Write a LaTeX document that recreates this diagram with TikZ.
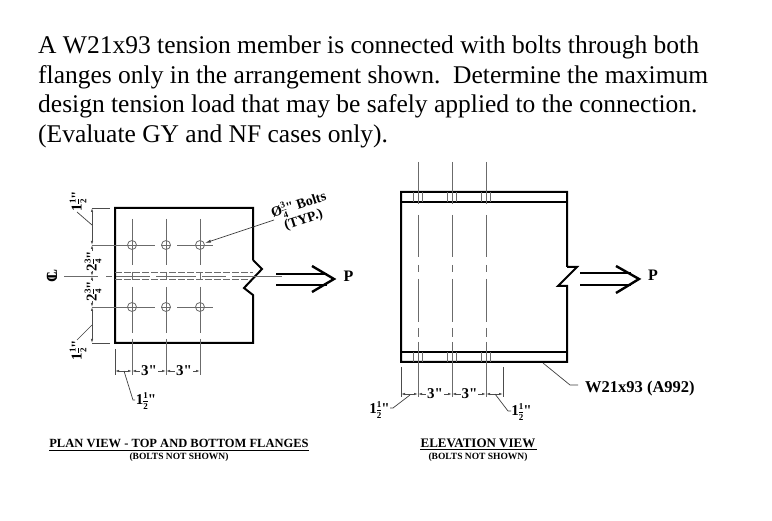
\documentclass[tikz,border=0pt]{standalone}
\usepackage{fontspec}
\setmainfont{Liberation Serif}
\newfontfamily\labfont{Liberation Serif}
\nulldelimiterspace=0pt
\newcommand\fr[2]{\ensuremath{\vcenter{\hbox{$\frac{\hbox{\fontsize{9}{9}\labfont\bfseries #1}}{\hbox{\fontsize{9}{9}\labfont\bfseries #2}}$}}}}
\usetikzlibrary{arrows.meta}
\tikzset{
 outline/.style={line width=2pt,black,line join=miter},
 thin gray/.style={line width=0.8pt,black!58},
 hidden/.style={line width=0.8pt,black!58,dash pattern=on 7pt off 2pt},
 dim/.style={line width=0.7pt,black!70},
 dimtip/.style={dim,{Latex[length=4pt,width=2.4pt]}-{Latex[length=4pt,width=2.4pt]}},
 leader/.style={line width=0.7pt,black!75},
 force/.style={line width=2.4pt,black},
 lab/.style={inner sep=0pt,font=\fontsize{15}{15}\labfont\bfseries},
 para/.style={inner sep=0pt,anchor=base west,font=\fontsize{25.5}{29}\selectfont},
 capt/.style={inner sep=0pt,font=\fontsize{12.5}{14}\labfont\bfseries},
 subcapt/.style={inner sep=0pt,font=\fontsize{9.5}{11}\labfont\bfseries},
}
\begin{document}
\begin{tikzpicture}[x=1pt,y=-1pt]
\useasboundingbox (0,0) rectangle (772,521);
\fill[white] (0,0) rectangle (772,521);
% statement
\node[para] (l1) at (38,54) {A W21x93 tension member is connected with bolts through both};
\node[para] (l2) at (38,83.5) {flanges only in the arrangement shown.\ \ Determine the maximum};
\node[para] (l3) at (38,113) {design tension load that may be safely applied to the connection.};
\node[para] (l4) at (38,142.5) {(Evaluate GY and NF cases only).};
% ---------- plan view
\draw[outline] (253,260) -- (253,208) -- (115,208) -- (115,343) -- (253,343) -- (253,295) -- (244,288) -- (262,269) -- (253,260);
\foreach \x in {132,166,200}{
 \foreach \y in {245,307}{
  \draw[thin gray] (\x,\y) circle (4.5pt);
 }
 \draw[thin gray] (\x,219) -- (\x,265) (\x,287) -- (\x,333) (\x,339) -- (\x,375) (\x,272) -- (\x,280);
}
\foreach \y in {245,307}{
 \draw[thin gray] (92,\y) -- (155,\y) (161,\y) -- (171,\y) (177,\y) -- (213,\y);
}
% web (hidden) and centre line
\draw[hidden] (115,272.5) -- (253,272.5) (115,279.5) -- (250,279.5);
\draw[thin gray] (64,276) -- (98,276) (106,276) -- (112,276) (116,276) -- (150,276);
\draw[thin gray] (156,276) -- (196,276) (202,276) -- (226,276) (232,276) -- (282,276);
% plan dimensions
\draw[dim] (92,208) -- (110,208) (92,343) -- (110,343) (115,349) -- (115,375);
\draw[dimtip] (92,208) -- (92,245);
\draw[dimtip] (92,245) -- (92,276);
\draw[dimtip] (92,276) -- (92,307);
\draw[dimtip] (92,307) -- (92,343);
\draw[dimtip] (115,371) -- (132,371);
\draw[dimtip] (132,371) -- (166,371);
\draw[dimtip] (166,371) -- (200,371);
\draw[leader] (92,225) -- (77,212);
\draw[leader] (92,325) -- (77,340);
\draw[leader] (124,371) -- (133,400) -- (135,400);
\node[lab,rotate=90] (a1) at (78,201) {1\fr12"};
\node[lab,rotate=90,fill=white] (a2) at (93,261) {2\fr34"};
\node[lab,rotate=90,fill=white] (a3) at (93,291) {2\fr34"};
\node[lab,rotate=90] (a4) at (78,350) {1\fr12"};
\node[lab,rotate=90,font=\fontsize{15}{15}\labfont\bfseries] (cl) at (52,276) {C\kern-7pt L};
\node[lab,fill=white,inner xsep=1pt] (a5) at (149,371) {3"};
\node[lab,fill=white,inner xsep=1pt] (a6) at (184,371) {3"};
\node[lab] (a7) at (146,401) {1\fr12"};
% bolts callout
\draw[leader,-{Latex[length=6pt,width=3pt]}] (274,220) -- (205,243);
\node[lab,rotate=18,align=center,font=\fontsize{14}{14}\labfont\bfseries] (bolts) at (301,212) {Ø\fr34" Bolts\\(TYP.)};
% force
\draw[force] (276,274) -- (327,274) (276,285) -- (327,285);
\draw[force,line join=miter] (312,266) -- (334,279) -- (312,292);
\node[lab,font=\fontsize{16}{16}\labfont\bfseries] (p1) at (348.5,276) {P};
% captions
\node[capt] (c1) at (179,443) {PLAN VIEW - TOP AND BOTTOM FLANGES};
\draw[line width=0.8pt] (49,450) -- (309,450);
\node[subcapt] (c2) at (179,457.5) {(BOLTS NOT SHOWN)};
% ---------- elevation view
\draw[outline] (567,267) -- (567,192) -- (401,192) -- (401,362) -- (567,362) -- (567,286) -- (558,286) -- (577,267) -- (567,267);
\draw[line width=2pt] (401,202) -- (567,202) (401,352) -- (567,352);
\foreach \x in {418,452,486}{
 \draw[thin gray] (\x,162) -- (\x,204) (\x,215) -- (\x,257) (\x,265) -- (\x,272) (\x,279) -- (\x,322) (\x,328) -- (\x,337) (\x,342) -- (\x,397);
 \draw[thin gray] (\x-4.5,192) -- (\x-4.5,202) (\x+4.5,192) -- (\x+4.5,202);
 \draw[thin gray] (\x-4.5,352) -- (\x-4.5,362) (\x+4.5,352) -- (\x+4.5,362);
}
\draw[dim] (401,367) -- (401,397) (503,367) -- (503,397);
\draw[dimtip] (401,394) -- (418,394);
\draw[dimtip] (418,394) -- (452,394);
\draw[dimtip] (452,394) -- (486,394);
\draw[dimtip] (486,394) -- (503,394);
\draw[leader] (410,395) -- (393,408) -- (390,408);
\draw[leader] (495,394) -- (508,411) -- (511,411);
\node[lab] (b1) at (379.5,410) {1\fr12"};
\node[lab] (b2) at (521.5,412) {1\fr12"};
\node[lab,fill=white,inner xsep=1pt] (b3) at (435,394) {3"};
\node[lab,fill=white,inner xsep=1pt] (b4) at (469.5,394) {3"};
\draw[force] (580,273) -- (631,273) (580,285) -- (631,285);
\draw[force,line join=miter] (616,266) -- (639,279) -- (616,293);
\node[lab,font=\fontsize{16}{16}\labfont\bfseries] (p2) at (653,275) {P};
\draw[leader] (543,363) -- (570,385) -- (578,385);
\node[lab,anchor=west,font=\fontsize{16.5}{16}\labfont\bfseries] (w) at (585,389) {W21x93 (A992)};
\node[capt,font=\fontsize{13}{14}\labfont\bfseries] (c3) at (478,443) {ELEVATION VIEW};
\draw[line width=0.8pt] (420,449.5) -- (537,449.5);
\node[subcapt] (c4) at (478,457.5) {(BOLTS NOT SHOWN)};
\end{tikzpicture}
\end{document}
